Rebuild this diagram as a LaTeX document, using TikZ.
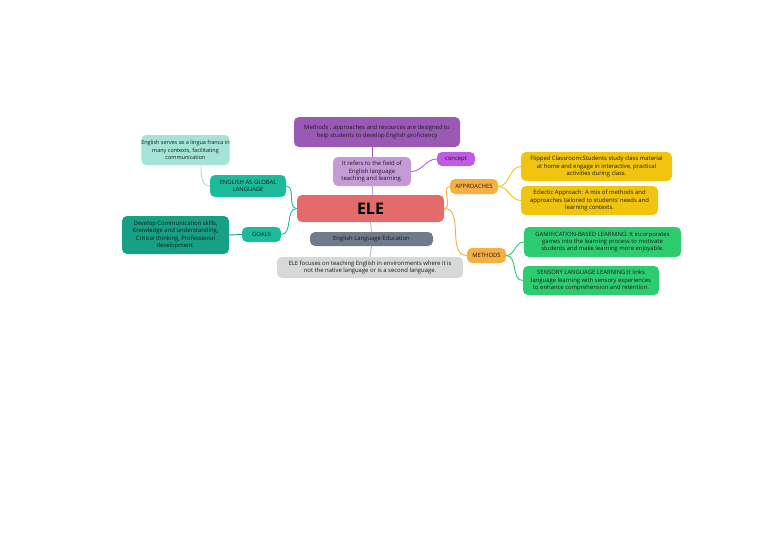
\documentclass[tikz,border=0pt]{standalone}
\usepackage{fontspec}
\setmainfont{Open Sans}
\definecolor{eleRed}{HTML}{E36B6B}
\definecolor{eleGray}{HTML}{6E7B8B}
\definecolor{lightGray}{HTML}{D6D9D8}
\definecolor{lightPurple}{HTML}{C49BD6}
\definecolor{midPurple}{HTML}{9B59B6}
\definecolor{brightPurple}{HTML}{C05BE3}
\definecolor{orangeC}{HTML}{F5B041}
\definecolor{yellowC}{HTML}{F1C40F}
\definecolor{greenC}{HTML}{2ECC71}
\definecolor{tealC}{HTML}{1ABC9C}
\definecolor{lightTeal}{HTML}{A3E4D7}
\definecolor{darkTeal}{HTML}{16A085}
\definecolor{lineGray}{HTML}{B8B4C8}
\definecolor{txt}{HTML}{1A1A1A}
\tikzset{
  box/.style={rounded corners=5pt, inner sep=0pt, align=center, text=txt,
    font=\fontsize{5.9}{7.4}\selectfont},
  conn/.style={line width=0.9pt},
}
\begin{document}
\begin{tikzpicture}[x=1pt,y=-1pt]
\useasboundingbox[fill=white] (0,0) rectangle (768,543);
% nodes
\node[box, fill=eleRed, minimum width=147, minimum height=27, font=\fontsize{16}{17}\selectfont\bfseries, text=black] (ele) at (370.5,208.5) {ELE};
\node[box, fill=eleGray, minimum width=123, minimum height=14] (def) at (371.5,239) {English Language Education};
\node[box, fill=lightGray, minimum width=186, minimum height=21] (focus) at (370,267.5) {ELE focuses on teaching English in environments where it is\\not the native language or is a second language.};
\node[box, fill=lightPurple, minimum width=78, minimum height=29] (refers) at (372,171.5) {It refers to the field of\\English language\\teaching and learning.};
\node[box, fill=midPurple, minimum width=166, minimum height=30] (mtop) at (377,132) {Methods , approaches and resources are designed to\\help students to develop English proficiency};
\node[box, fill=brightPurple, minimum width=38, minimum height=14] (concept) at (456,159) {concept};
\node[box, fill=orangeC, minimum width=48, minimum height=15] (appr) at (474,186.5) {APPROACHES};
\node[box, fill=yellowC, minimum width=151, minimum height=29] (flip) at (596.5,166.5) {Flipped Classroom:Students study class material\\at home and engage in interactive, practical\\activities during class.};
\node[box, fill=yellowC, minimum width=137, minimum height=29] (ecl) at (589.5,200.5) {Eclectic Approach: A mix of methods and\\approaches tailored to students' needs and\\learning contexts.};
\node[box, fill=orangeC, minimum width=39, minimum height=15] (meth) at (486.5,255.5) {METHODS};
\node[box, fill=greenC, minimum width=157, minimum height=30] (gam) at (602.5,242) {GAMIFICATION-BASED LEARNING: It incorporates\\games into the learning process to motivate\\students and make learning more enjoyable.};
\node[box, fill=greenC, minimum width=136, minimum height=29] (sens) at (591,280.5) {SENSORY LANGUAGE LEARNING:It links\\language learning with sensory experiences\\to enhance comprehension and retention.};
\node[box, fill=tealC, minimum width=76, minimum height=22] (glob) at (248,186) {ENGLISH AS GLOBAL\\LANGUAGE};
\node[box, fill=lightTeal, minimum width=87, minimum height=30, font=\fontsize{5.5}{7.4}\selectfont] (serves) at (185.5,150) {English serves as a lingua franca in\\many contexts, facilitating\\communication};
\node[box, fill=tealC, minimum width=39, minimum height=15] (goals) at (261.5,234.5) {GOALS};
\node[box, fill=darkTeal, minimum width=107, minimum height=38] (dev) at (175.5,235) {Develop Communication skills,\\Knowledge and understanding,\\Critical thinking, Professional\\development.};
% connectors
\draw[conn, tealC] (ele.west) to[out=180,in=0] (glob.east);
\draw[conn, tealC] (ele.west) to[out=180,in=0] (goals.east);
\draw[conn, darkTeal] (goals.west) -- (dev.east);
\draw[conn, lightTeal] ([xshift=15.5]serves.south) to[out=-90,in=180] (glob.west);
\draw[conn, lightPurple] (ele.north -| refers.south) -- (refers.south);
\draw[conn, midPurple] (refers.north) -- (refers.north |- mtop.south);
\draw[conn, brightPurple] (refers.east) to[out=0,in=180] (concept.west);
\draw[conn, orangeC] (ele.east) to[out=0,in=180] (appr.west);
\draw[conn, orangeC] (ele.east) to[out=0,in=180] (meth.west);
\draw[conn, yellowC] (appr.east) to[out=0,in=180] (flip.west);
\draw[conn, yellowC] (appr.east) to[out=0,in=180] (ecl.west);
\draw[conn, greenC] (meth.east) to[out=0,in=180] (gam.west);
\draw[conn, greenC] (meth.east) to[out=0,in=180] (sens.west);
\draw[conn, lineGray] (ele.south) -- (def.north);
\draw[conn, lineGray] (def.south) -- (focus.north);
\end{tikzpicture}
\end{document}
